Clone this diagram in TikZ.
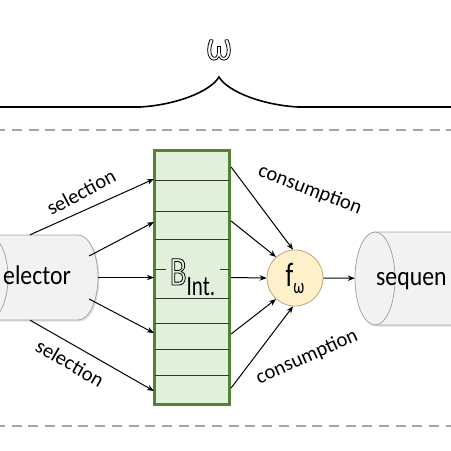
\documentclass[tikz,border=0pt]{standalone}
\usepackage{fontspec}
\setmainfont{Carlito}
\newfontfamily\wordfont[FakeStretch=0.88]{Carlito}
\newfontfamily\narrowfont[FakeStretch=0.75]{Carlito}
\usetikzlibrary{shapes.geometric, arrows.meta, positioning, calc, shadows}

\definecolor{cylfill}{HTML}{F2F2F2}
\definecolor{cyldraw}{HTML}{A5A5A5}
\definecolor{buffill}{HTML}{E2EFDA}
\definecolor{bufdraw}{HTML}{548235}
\definecolor{ffill}{HTML}{FFF0CC}
\definecolor{fdraw}{HTML}{BFA777}
\definecolor{dashgray}{HTML}{A6A6A6}

\newcommand{\hollow}[1]{\special{pdf:code 1 Tr 0.8 w}#1\special{pdf:code 0 Tr}}

\begin{document}
\begin{tikzpicture}[
        x=1pt, y=-1pt,
        cyl/.style={draw=cyldraw, fill=cylfill, line width=0.8pt, drop shadow={opacity=0.25, shadow xshift=1.5pt, shadow yshift=-1.5pt}},
        cylface/.style={draw=cyldraw, line width=0.8pt},
        anchorbox/.style={ellipse, inner sep=0pt},
        buffer/.style={rectangle, draw=bufdraw, fill=buffill, line width=2.2pt, minimum width=74pt, minimum height=253pt, inner sep=0pt, drop shadow={opacity=0.25, shadow xshift=1.5pt, shadow yshift=-1.5pt}},
        fnode/.style={circle, draw=fdraw, fill=ffill, line width=0.8pt, minimum size=56pt, inner sep=0pt},
        divline/.style={line width=0.9pt, black!80},
        flow/.style={-{Stealth[length=7pt, width=5.5pt]}, line width=1pt},
        lbl/.style={font=\fontsize{20.5}{21}\selectfont, inner sep=0pt},
        bigword/.style={font=\wordfont\fontsize{27}{27}\selectfont, inner sep=0pt}
    ]
        \useasboundingbox (0,0) rectangle (451,451);
        \clip (0,0) rectangle (451,451);

        % Omega brace
        \node[inner sep=0pt, font=\wordfont\fontsize{42}{42}\selectfont] (omega) at (219,50) {\hollow{ω}};
        \draw[line width=1.6pt] (0,107) -- (140,107) .. controls (175,105) and (210,92) .. (219,77)
            .. controls (228,92) and (263,105) .. (298,107) -- (451,107);

        % Dashed frame
        \draw[dashgray, line width=1.8pt, dash pattern=on 10pt off 6.7pt] (-9.7,130) rectangle (470,426);

        % Selector cylinder
        \draw[cyl] (-12,235) -- (78,235) arc[start angle=90, end angle=-90, x radius=20pt, y radius=42.5pt]
            -- (-12,320) arc[start angle=270, end angle=90, x radius=20pt, y radius=42.5pt] -- cycle;
        \draw[cylface] (-12,235) arc[start angle=90, end angle=-90, x radius=20pt, y radius=42.5pt];
        \node[anchorbox, minimum width=130pt, minimum height=85pt] (sel) at (33,277.5) {};
        \node[bigword, anchor=base west] (seltext) at (3,284) {elector};

        % Sequence cylinder
        \draw[cyl] (375,232) -- (500,232) -- (500,325) -- (375,325)
            arc[start angle=270, end angle=90, x radius=20pt, y radius=46.5pt] -- cycle;
        \draw[cylface] (375,232) arc[start angle=90, end angle=-90, x radius=20pt, y radius=46.5pt];
        \node[minimum width=140pt, minimum height=93pt, inner sep=0pt] (seq) at (425,278.5) {};
        \node[bigword, anchor=base west] (seqtext) at (376,285) {sequen};

        % Intermediate buffer
        \node[buffer] (buf) at (192,277.5) {};
        \foreach \y in {180,211,239,269,298,323,349,375}
            \draw[divline] (155,\y) -- (229,\y);
        \draw[bufdraw, line width=2.2pt] (buf.north west) rectangle (buf.south east);
        \node[fill=buffill, inner sep=0pt, minimum width=54pt, anchor=base] (blabel) at (192.5,285)
            {{\narrowfont\fontsize{41}{41}\selectfont\hollow{B}}{\narrowfont\fontsize{28}{28}\selectfont\raisebox{-10pt}{Int.}}};

        % Function node
        \node[fnode] (fw) at (295,278)
            {{\narrowfont\fontsize{34}{34}\selectfont f}{\narrowfont\fontsize{21}{21}\selectfont\raisebox{-7pt}{ω}}};

        % Selection arrows
        \draw[flow] (sel.94) -- ([yshift=98.5pt]buf.west);
        \draw[flow] (sel.21) -- ([yshift=55.5pt]buf.west);
        \draw[flow] (sel.0) -- ([yshift=0pt]buf.west);
        \draw[flow] (sel.-21) -- ([yshift=-55.5pt]buf.west);
        \draw[flow] (sel.266) -- ([yshift=-113.5pt]buf.west);

        % Consumption arrows
        \draw[flow] ([xshift=1pt, yshift=110.5pt]buf.east) -- (fw.94);
        \draw[flow] ([xshift=1pt, yshift=56.5pt]buf.east) -- (fw.132);
        \draw[flow] ([xshift=1pt]buf.east) -- (fw.180);
        \draw[flow] ([xshift=1pt, yshift=-56.5pt]buf.east) -- (fw.228);
        \draw[flow] ([xshift=1pt, yshift=-110.5pt]buf.east) -- (fw.266);
        \draw[flow] (fw) -- (seq);

        % Labels
        \node[lbl, rotate=28] (sel_top) at (81,192) {selection};
        \node[lbl, rotate=-30] (sel_bot) at (70,363) {selection};
        \node[lbl, rotate=-21] (con_top) at (310,190) {consumption};
        \node[lbl, rotate=24] (con_bot) at (307,357) {consumption};
    \end{tikzpicture}
\end{document}
